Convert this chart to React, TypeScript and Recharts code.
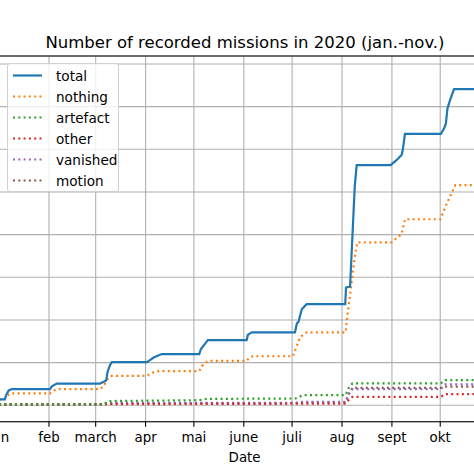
import React from "react";
import {
  LineChart,
  Line,
  XAxis,
  YAxis,
  CartesianGrid,
  ReferenceLine,
} from "recharts";

// day of year 2020 -> cumulative count
const TOTAL: [number, number][] = [
  [1, 14], [4.5, 14], [5.5, 25], [7, 35], [9, 38], [32.6, 38], [34, 45], [36.9, 51],
  [63.7, 51], [66, 55], [67.5, 58], [68.5, 80], [70, 95], [71.1, 101], [92.9, 101],
  [94.7, 106], [97, 112], [102, 120], [125.3, 120], [126.4, 132], [128, 140],
  [130.7, 153], [154.8, 153], [155.5, 165], [157.9, 171], [184.8, 171], [186, 192],
  [187, 196], [189, 225], [192, 237], [216, 237], [216.5, 276], [219, 278],
  [221.9, 512], [223.1, 563], [244.2, 563], [248, 575], [251.1, 587], [251.8, 600],
  [253.1, 636], [275.4, 636], [277.5, 650], [278.5, 660], [279.5, 696], [281.1, 715],
  [283.6, 741], [320, 741],
];

const NOTHING: [number, number][] = [
  [1, 14], [4.5, 14], [6, 22], [8, 28], [32.6, 28], [34.5, 34], [36.9, 38], [63.7, 38],
  [66, 45], [68, 60], [71, 69], [92.9, 69], [95, 74], [98.5, 80], [125.3, 80],
  [127, 92], [130.7, 104], [154.8, 104], [156, 110], [158.5, 115], [183.5, 115],
  [186, 140], [188, 160], [192, 171], [216.3, 171], [217, 200], [219.1, 262],
  [221.9, 348], [223.5, 382], [244.7, 382], [251, 401], [253.1, 436], [275.1, 436],
  [279.1, 473], [284.4, 516], [320, 516],
];

const ARTEFACT: [number, number][] = [
  [1, 2.4], [66, 2.4], [69, 10], [125, 12], [130, 15], [185, 16], [190, 24],
  [216.3, 24], [218, 40], [220.5, 51.5], [275.4, 51.5], [278, 59], [320, 59],
];

const OTHER: [number, number][] = [
  [1, 2], [216.3, 4], [218, 12], [220.5, 20], [275.4, 20], [278, 26], [320, 26],
];

const VANISHED: [number, number][] = [
  [1, 2.4], [66, 2.4], [69, 6], [185, 6], [190, 8], [216.3, 8], [218, 25],
  [220.5, 38], [275.4, 38], [278, 49], [320, 49],
];

const MOTION: [number, number][] = [
  [1, 2], [66, 2], [69, 5], [185, 5], [190, 7], [216.3, 7], [218, 25],
  [220.5, 41], [275.4, 41], [278, 44], [320, 44],
];

const MONTH_DAYS = [1, 32, 61, 92, 122, 153, 183, 214, 245, 275, 306];
const MONTH_LABELS = ["jan", "feb", "march", "apr", "mai", "june", "juli", "aug", "sept", "okt", "nov"];
const Y_TICKS = [0, 100, 200, 300, 400, 500, 600, 700, 800];

const X_DOMAIN: [number, number] = [-15, 322];
const Y_DOMAIN: [number, number] = [-38.4, 818.6];

const FONT = "'DejaVu Sans', sans-serif";

const SERIES = [
  { name: "total", points: TOTAL, color: "#1f77b4", dotted: false },
  { name: "nothing", points: NOTHING, color: "#ff7f0e", dotted: true },
  { name: "artefact", points: ARTEFACT, color: "#2ca02c", dotted: true },
  { name: "other", points: OTHER, color: "#d62728", dotted: true },
  { name: "vanished", points: VANISHED, color: "#9467bd", dotted: true },
  { name: "motion", points: MOTION, color: "#8c564b", dotted: true },
];

const toRows = (pts: [number, number][]) => pts.map(([day, value]) => ({ day, value }));

function ChartLegend() {
  return (
    <div
      style={{
        position: "absolute",
        left: 7,
        top: 63,
        width: 112,
        height: 129,
        border: "1px solid #d0d0d0",
        borderRadius: 3,
        background: "rgba(255,255,255,0.8)",
        fontFamily: FONT,
        fontSize: 13.6,
        boxSizing: "border-box",
      }}
    >
      {SERIES.map((s, i) => (
        <div
          key={s.name}
          style={{
            position: "absolute",
            left: 0,
            top: 1 + i * 21,
            height: 21,
            display: "flex",
            alignItems: "center",
          }}
        >
          <svg width={44} height={21} style={{ marginLeft: 4 }}>
            <line
              x1={1}
              x2={30}
              y1={10.5}
              y2={10.5}
              stroke={s.color}
              strokeWidth={2.2}
              strokeDasharray={s.dotted ? "2 3.3" : undefined}
            />
          </svg>
          <span style={{ color: "#000" }}>{s.name}</span>
        </div>
      ))}
    </div>
  );
}

export default function App() {
  return (
    <div
      style={{
        position: "fixed",
        left: 0,
        top: 0,
        width: 474,
        height: 474,
        overflow: "hidden",
        background: "#fff",
      }}
    >
      <div
        style={{
          position: "absolute",
          left: 0,
          top: 35,
          width: 490,
          textAlign: "center",
          fontFamily: FONT,
          fontSize: 16.5,
          lineHeight: "16px",
          color: "#000",
          whiteSpace: "nowrap",
        }}
      >
        Number of recorded missions in 2020 (jan.-nov.)
      </div>
      <div style={{ position: "absolute", left: -80, top: 0 }}>
        <LineChart
          width={640}
          height={474}
          margin={{ top: 56, right: 44.1, bottom: 12.3, left: 13.3 }}
          style={{ fontFamily: FONT }}
        >
          <CartesianGrid stroke="#b0b0b0" strokeWidth={1.1} />
          <XAxis
            type="number"
            dataKey="day"
            domain={X_DOMAIN}
            allowDataOverflow
            ticks={MONTH_DAYS}
            tickFormatter={(v: number) => MONTH_LABELS[MONTH_DAYS.indexOf(v)] ?? ""}
            interval={0}
            height={40}
            tickSize={5}
            tickMargin={6}
            stroke="#000"
            tick={{ fill: "#000", fontSize: 13.4 }}
            axisLine={{ stroke: "#000", strokeWidth: 1.1 }}
            tickLine={{ stroke: "#000", strokeWidth: 1.1 }}
            label={{ value: "Date", position: "insideBottom", offset: 0, fill: "#000", fontSize: 13.4 }}
          />
          <YAxis
            type="number"
            domain={Y_DOMAIN}
            allowDataOverflow
            ticks={Y_TICKS}
            interval={0}
            width={40}
            stroke="#000"
            tick={{ fill: "#000", fontSize: 13.4 }}
          />
          <ReferenceLine y={Y_DOMAIN[1]} stroke="#000" strokeWidth={1.1} />
          {SERIES.slice()
            .reverse()
            .map((s) => (
              <Line
                key={s.name}
                data={toRows(s.points)}
                dataKey="value"
                name={s.name}
                type="linear"
                stroke={s.color}
                strokeWidth={2.2}
                strokeDasharray={s.dotted ? "2 3.3" : undefined}
                dot={false}
                activeDot={false}
                isAnimationActive={false}
              />
            ))}
        </LineChart>
      </div>
      <ChartLegend />
    </div>
  );
}
